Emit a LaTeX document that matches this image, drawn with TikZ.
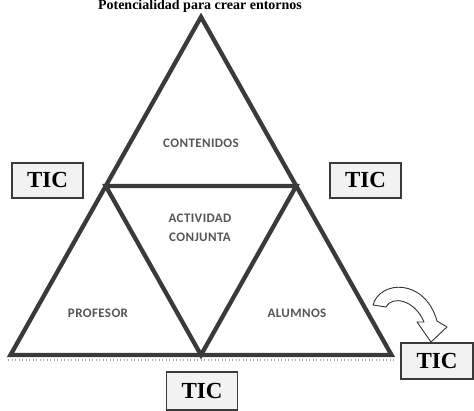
\documentclass[tikz,border=0pt]{standalone}
\usepackage{fontspec}
\setmainfont{Liberation Serif}
\newfontfamily\labfont[LetterSpace=3]{Carlito}
\definecolor{lineC}{HTML}{3A3A3A}
\definecolor{labC}{HTML}{555555}
\definecolor{boxF}{HTML}{F2F2F2}
\begin{document}
\begin{tikzpicture}[x=1pt,y=-1pt,
  tri/.style={draw=lineC, line width=4.3pt, line join=miter},
  ticbox/.style={draw=lineC, fill=boxF, line width=1.5pt, minimum width=71pt, minimum height=35pt, inner sep=0pt, font=\fontsize{23}{25}\selectfont\bfseries},
  lab/.style={text=labC, font=\labfont\fontsize{13}{16}\selectfont\bfseries, align=center, inner sep=0pt},
  arrowshape/.style={draw=black!80, fill=white, line width=0.9pt, line join=round}]
\useasboundingbox (0,0) rectangle (474,411);
% vertices
\coordinate (A) at (201,17);
\coordinate (L) at (10.5,355);
\coordinate (R) at (391.5,355);
\coordinate (LM) at (105.75,186);
\coordinate (RM) at (296.25,186);
\coordinate (BM) at (201,355);
% shadow dots under base
\draw[gray!70, line width=1.4pt, dash pattern=on 1.4pt off 2.1pt] (8,360) -- (395,360);
% triangles
\draw[tri] (A) -- (R) -- (L) -- cycle;
\draw[tri] (LM) -- (RM) -- (BM) -- cycle;
% title
\node[anchor=base, inner sep=0pt, font=\fontsize{14}{16}\selectfont\bfseries] (title) at (200,10) {Potencialidad para crear entornos};
% labels
\node[lab] (cont) at (201,143) {CONTENIDOS};
\node[lab] (act) at (200,228) {ACTIVIDAD\\[3pt]CONJUNTA};
\node[lab] (prof) at (98,313) {PROFESOR};
\node[lab] (alum) at (297,313) {ALUMNOS};
% TIC boxes
\node[ticbox] (ticL) at (47.5,180.5) {TIC};
\node[ticbox] (ticR) at (365.5,180.5) {TIC};
\node[ticbox, minimum height=38pt] (ticB) at (202,391) {TIC};
\node[ticbox, minimum width=72pt, minimum height=36pt] (ticBR) at (437,361) {TIC};
% curved hollow arrow
\draw[arrowshape] (373,305) .. controls (380,280) and (425,278) .. (437,321)
  -- (447,327) -- (431,342) -- (417,322) -- (424,322)
  .. controls (415,300) and (392,295) .. (386,307) -- cycle;
\end{tikzpicture}
\end{document}
